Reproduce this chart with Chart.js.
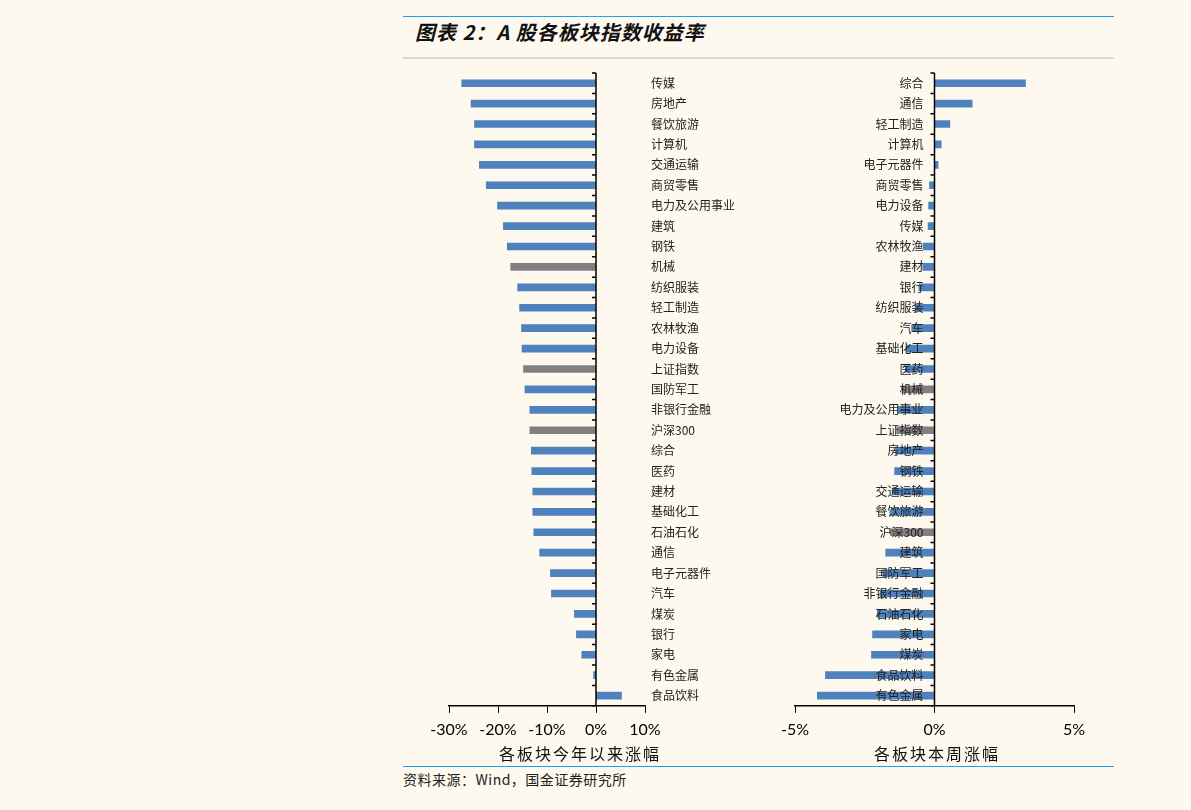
<!DOCTYPE html>
<html>
<head>
<meta charset="utf-8">
<script src="https://cdn.jsdelivr.net/npm/chart.js@4.4.1/dist/chart.umd.min.js"></script>
<style>
  body { margin:0; background:#fdf9ef; width:1191px; height:810px; position:relative; overflow:hidden; font-family:"Noto Sans CJK SC", sans-serif; }
  .line { position:absolute; left:403px; width:711px; }
  #title { position:absolute; left:415px; top:17px; font-size:20px; font-weight:bold; font-style:italic; color:#111; letter-spacing:1px; }
  .axtitle { position:absolute; top:741px; font-size:16px; color:#111; letter-spacing:2px; transform:translateX(-50%); white-space:nowrap; }
  #source { position:absolute; left:403px; top:769px; font-size:14px; color:#222; letter-spacing:0.5px; }
  canvas { position:absolute; }
</style>
</head>
<body>
<div class="line" style="top:16px;height:1px;background:#1aa3e8;"></div>
<div id="title">图表 2：A 股各板块指数收益率</div>
<div class="line" style="top:57px;height:2px;background:#dcd9d1;"></div>
<canvas id="ytd" width="360" height="700" style="left:400px;top:60px;"></canvas>
<canvas id="week" width="340" height="700" style="left:770px;top:60px;"></canvas>
<div class="axtitle" style="left:580px;">各板块今年以来涨幅</div>
<div class="axtitle" style="left:937px;">各板块本周涨幅</div>
<div class="line" style="top:766px;height:1px;background:#1aa3e8;"></div>
<div id="source">资料来源：Wind，国金证券研究所</div>
<script>
// 今年以来涨幅 (%)
var ytdNames = ['传媒','房地产','餐饮旅游','计算机','交通运输','商贸零售','电力及公用事业','建筑','钢铁','机械',
  '纺织服装','轻工制造','农林牧渔','电力设备','上证指数','国防军工','非银行金融','沪深300','综合','医药',
  '建材','基础化工','石油石化','通信','电子元器件','汽车','煤炭','银行','家电','有色金属','食品饮料'];
var ytdValues = [-27.4,-25.5,-24.8,-24.8,-23.8,-22.4,-20.1,-18.9,-18.1,-17.4,
  -16.0,-15.6,-15.2,-15.1,-14.8,-14.5,-13.5,-13.5,-13.2,-13.1,
  -12.9,-12.9,-12.7,-11.5,-9.3,-9.1,-4.4,-4.0,-2.9,-0.5,5.2];
var ytdTicks = [-30, -20, -10, 0, 10];

// 本周涨幅 (%)
var weekNames = ['综合','通信','轻工制造','计算机','电子元器件','商贸零售','电力设备','传媒','农林牧渔','建材',
  '银行','纺织服装','汽车','基础化工','医药','机械','电力及公用事业','上证指数','房地产','钢铁',
  '交通运输','餐饮旅游','沪深300','建筑','国防军工','非银行金融','石油石化','家电','煤炭','食品饮料','有色金属'];
var weekValues = [3.26,1.35,0.55,0.24,0.13,-0.18,-0.21,-0.23,-0.40,-0.42,
  -0.56,-0.68,-0.82,-1.0,-1.05,-1.16,-1.3,-1.35,-1.4,-1.43,
  -1.5,-1.55,-1.58,-1.75,-1.85,-1.95,-2.05,-2.22,-2.26,-3.91,-4.2];
var weekTicks = [-5, 0, 5];

var greyNames = ['机械','上证指数','沪深300'];

var axisPlugin = {
  id: 'catAxis',
  afterDatasetsDraw: function(chart) {
    var ctx = chart.ctx, xs = chart.scales.x, ys = chart.scales.y;
    var area = chart.chartArea;
    var x0 = xs.getPixelForValue(0);
    var side = chart.options.plugins.catAxis.side;
    var labels = chart.data.labels;
    var half = (ys.getPixelForValue(1) - ys.getPixelForValue(0)) / 2;
    ctx.save();
    ctx.strokeStyle = '#000';
    ctx.lineWidth = 1.5;
    ctx.beginPath();
    ctx.moveTo(x0, area.top);
    ctx.lineTo(x0, area.bottom);
    for (var i = 0; i <= labels.length; i++) {
      var yb = ys.getPixelForValue(0) - half + i * 2 * half;
      ctx.moveTo(x0 - 4, yb);
      ctx.lineTo(x0, yb);
    }
    ctx.stroke();
    ctx.fillStyle = '#222';
    ctx.font = '12px "Noto Sans CJK SC"';
    ctx.textBaseline = 'middle';
    ctx.textAlign = side === 'right' ? 'left' : 'right';
    for (var j = 0; j < labels.length; j++) {
      var y = ys.getPixelForValue(j);
      ctx.fillText(labels[j], side === 'right' ? x0 + 55 : x0 - 11, y);
    }
    ctx.restore();
  }
};

function renderChart(id, names, values, ticks, padding, side) {
  var ctx = document.getElementById(id);
  return new Chart(ctx, {
    type: 'bar',
    data: {
      labels: names,
      datasets: [{
        data: values,
        backgroundColor: names.map(function(n) { return greyNames.indexOf(n) >= 0 ? '#808080' : '#4f81bd'; }),
        barThickness: 7
      }]
    },
    options: {
      indexAxis: 'y',
      responsive: false,
      animation: false,
      layout: { padding: padding },
      plugins: { legend: { display: false }, tooltip: { enabled: false }, catAxis: { side: side } },
      scales: {
        x: {
          min: ticks[0],
          max: ticks[ticks.length - 1],
          afterBuildTicks: function(axis) { axis.ticks = ticks.map(function(v) { return { value: v }; }); },
          ticks: { callback: function(v) { return v + '%'; }, font: { family: 'Lato', size: 16 }, color: '#000', padding: 7, maxRotation: 0 },
          grid: { drawOnChartArea: false, tickLength: 7, color: '#000' },
          border: { color: '#000', width: 1.5 }
        },
        y: { display: false }
      }
    },
    plugins: [axisPlugin]
  });
}

renderChart('ytd', ytdNames, ytdValues, ytdTicks, { left: 49, right: 115, top: 13, bottom: 14 }, 'right');
renderChart('week', weekNames, weekValues, weekTicks, { left: 25, right: 36, top: 13, bottom: 14 }, 'left');
</script>
</body>
</html>
